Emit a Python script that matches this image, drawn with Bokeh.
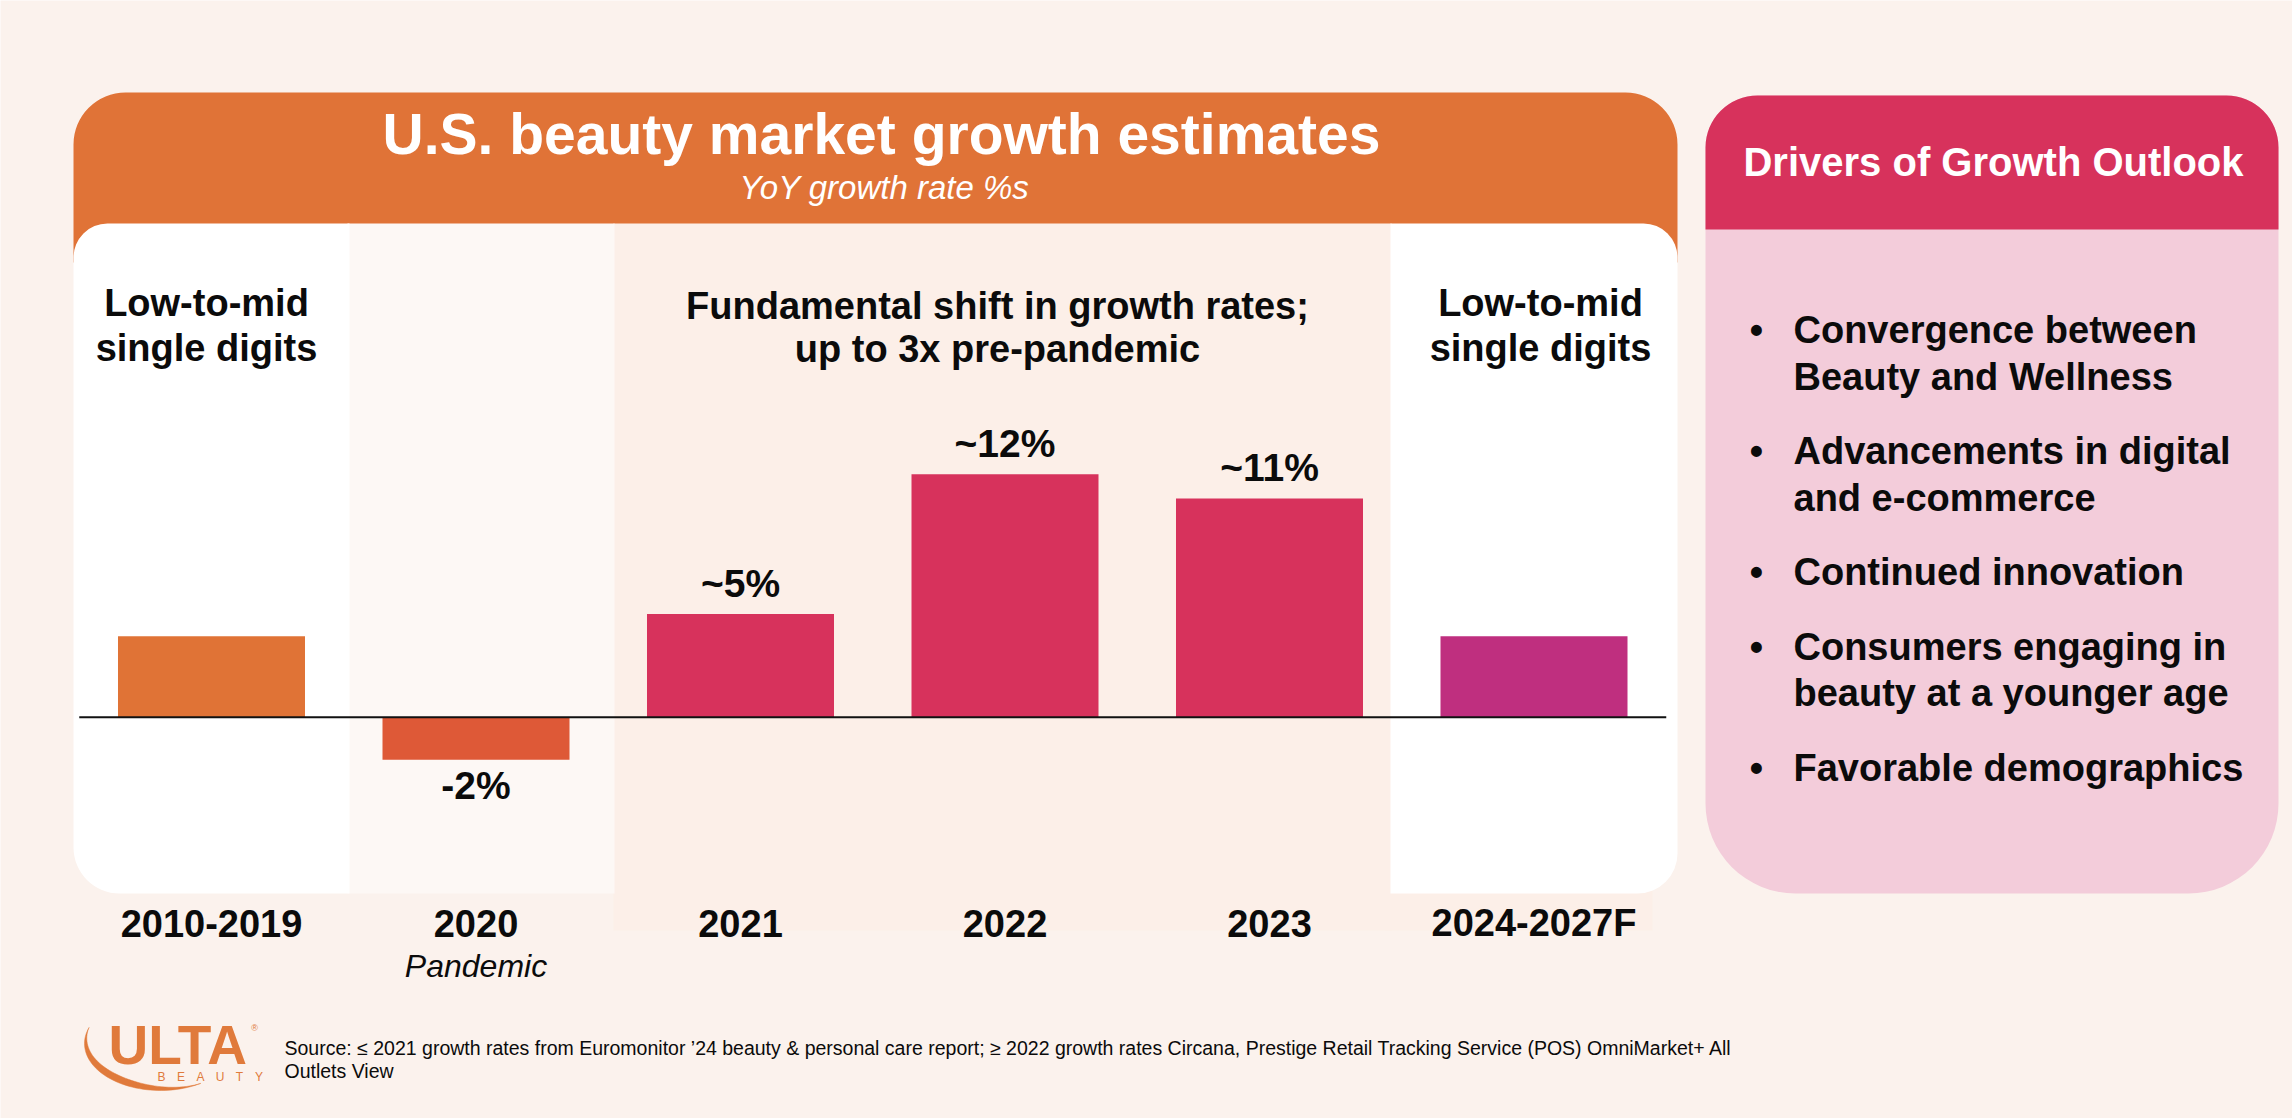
import math
from bokeh.plotting import figure
from bokeh.models import Range1d, BoxAnnotation, ColumnDataSource
from bokeh.core.properties import value
from bokeh.embed import file_html
from bokeh.resources import INLINE

# ---------------- data ----------------
categories = ["2010-2019", "2020", "2021", "2022", "2023", "2024-2027F"]
growth = [4.0, -2.1, 5.1, 12.0, 10.8, 4.0]
value_labels = ["", "-2%", "~5%", "~12%", "~11%", ""]
category_notes = ["", "Pandemic", "", "", "", ""]
bar_colors = ["#E07336", "#DE5937", "#D7325C", "#D7325C", "#D7325C", "#BF2F7F"]

title = "U.S. beauty market growth estimates"
subtitle = "YoY growth rate %s"
side_title = "Drivers of Growth Outlook"
drivers = [
    ["Convergence between", "Beauty and Wellness"],
    ["Advancements in digital", "and e-commerce"],
    ["Continued innovation"],
    ["Consumers engaging in", "beauty at a younger age"],
    ["Favorable demographics"],
]
source_lines = [
    "Source: \u2264 2021 growth rates from Euromonitor \u201924 beauty & personal care report; \u2265 2022 growth rates Circana, Prestige Retail Tracking Service (POS) OmniMarket+ All",
    "Outlets View",
]

# ---------------- layout constants ----------------
W, H = 2292, 1118
BG = "#FBF2ED"
FONT = "Liberation Sans"
ZERO_Y = 716.7        # px from top where 0% sits
PX_PER_PCT = 20.25
CAT0_X = 211.0        # px centre of first category
CAT_STEP = 264.5      # px between category centres
BASE_FIX = 0.38       # baseline correction (em)


def Y(yd):
    return H - yd


p = figure(width=W, height=H, x_range=Range1d(0, W), y_range=Range1d(0, H),
           output_backend="svg", toolbar_location=None, min_border=0,
           x_axis_location=None, y_axis_location=None,
           background_fill_color=BG, border_fill_color=BG, outline_line_color=None)
p.grid.visible = False
p.extra_x_ranges = {"idx": Range1d((0 - CAT0_X) / CAT_STEP, (W - CAT0_X) / CAT_STEP)}
p.extra_y_ranges = {"pct": Range1d(-(H - ZERO_Y) / PX_PER_PCT, ZERO_Y / PX_PER_PCT)}


def box(l, r, t, b, color, radius=0):
    p.add_layout(BoxAnnotation(left=l, right=r, top=Y(t), bottom=Y(b), fill_color=color,
                               fill_alpha=1, line_color=None, border_radius=radius,
                               level="underlay"))


def label(x, yd, txt, size, color="#0B0B0B", style="bold", align="center"):
    p.text(x=[x], y=[Y(yd - BASE_FIX * size)], text=[txt], text_font=value(FONT),
           text_font_size=f"{size}px", text_font_style=style, text_color=color,
           text_align=align, text_baseline="alphabetic")


# ---------------- left panel backgrounds ----------------
box(73, 1677, 92, 262, "#E07337", (52, 52, 0, 0))
box(613, 1391, 223, 930, "#FCEFE8")
box(1385, 1652, 880, 930, "#FCEFE8")
box(347, 614, 223, 893, "#FDF8F5")
box(73, 349, 223, 893, "#FFFFFF", (34, 0, 0, 46))
box(1390, 1677, 223, 893, "#FFFFFF", (0, 34, 40, 0))

# ---------------- right panel backgrounds ----------------
box(1705, 2278, 95, 893, "#F3CCDA", (52, 52, 90, 90))
box(1705, 2278, 95, 229, "#D7325C", (52, 52, 0, 0))

# ---------------- bars ----------------
n = len(categories)
src = ColumnDataSource(dict(x=list(range(n)), top=growth, color=bar_colors))
p.vbar(x="x", top="top", bottom=0, width=0.707, fill_color="color", line_color=None,
       source=src, x_range_name="idx", y_range_name="pct")
p.line(x=[-0.5, n - 0.5], y=[0, 0], line_color="#111111", line_width=2,
       x_range_name="idx", y_range_name="pct")

# value labels
VAL_SIZE = 39
lab_i = [i for i in range(n) if value_labels[i]]
p.text(x=lab_i, y=[growth[i] for i in lab_i], text=[value_labels[i] for i in lab_i],
       y_offset=[(-16 if growth[i] >= 0 else 41) - BASE_FIX * VAL_SIZE for i in lab_i],
       x_range_name="idx", y_range_name="pct", text_font=value(FONT),
       text_font_size=f"{VAL_SIZE}px", text_font_style="bold", text_color="#0B0B0B",
       text_align="center", text_baseline="alphabetic")

# category labels
p.text(x=list(range(n)), y=[Y(937 - BASE_FIX * 38)] * n, text=categories, x_range_name="idx",
       text_font=value(FONT), text_font_size="38px", text_font_style="bold",
       text_color="#0B0B0B", text_align="center", text_baseline="alphabetic")
note_i = [i for i in range(n) if category_notes[i]]
p.text(x=note_i, y=[Y(978 - BASE_FIX * 32)] * len(note_i), text=[category_notes[i] for i in note_i],
       x_range_name="idx", text_font=value(FONT), text_font_size="32px", text_font_style="italic",
       text_color="#0B0B0B", text_align="center", text_baseline="alphabetic")

# ---------------- headings and annotations ----------------
label(881, 155, title, 57, color="#FFFFFF")
label(884, 200, subtitle, 33, color="#FFFFFF", style="italic")

label(206, 317, "Low-to-mid", 38)
label(206, 362, "single digits", 38)
label(1540, 317, "Low-to-mid", 38)
label(1540, 362, "single digits", 38)
label(997, 320, "Fundamental shift in growth rates;", 38)
label(997, 363, "up to 3x pre-pandemic", 38)

label(1993, 177, side_title, 40, color="#FFFFFF")
yb = 344
for item in drivers:
    label(1756, yb, "\u2022", 38)
    for k, line in enumerate(item):
        label(1793, yb + k * 46.5, line, 38, align="left")
    yb += len(item) * 46.5 + 28

# ---------------- footer ----------------
label(284, 1055, source_lines[0], 19.5, style="normal", align="left")
label(284, 1078, source_lines[1], 19.5, style="normal", align="left")

LOGO = "#E07A3B"
label(108, 1065, "ULTA", 55, color=LOGO, align="left")
for k, ch in enumerate("BEAUTY"):
    label(161 + k * 19.5, 1081, ch, 12, color=LOGO, style="normal")
label(254, 1031, "\u00ae", 9, color=LOGO, style="normal")

# swoosh (crescent)
cx, cy, rx, ry = 160, 1043, 76, 47
N = 50
ts = [200 - 142 * s / N for s in range(N + 1)]
outer = [(cx + rx * math.cos(math.radians(t)), cy + ry * math.sin(math.radians(t))) for t in ts]
inner = []
for s, t in enumerate(ts):
    u = s / N
    w = 7.0 * math.sin(math.pi * u) ** 1.2 * (1.15 - 0.3 * u)
    inner.append((cx + (rx - w) * math.cos(math.radians(t)), cy + (ry - w) * math.sin(math.radians(t))))
poly = outer + inner[::-1]
p.patch(x=[q[0] for q in poly], y=[Y(q[1]) for q in poly], fill_color=LOGO, line_color=LOGO,
        line_width=0.5)

open("out.html", "w").write(file_html(p, INLINE))
